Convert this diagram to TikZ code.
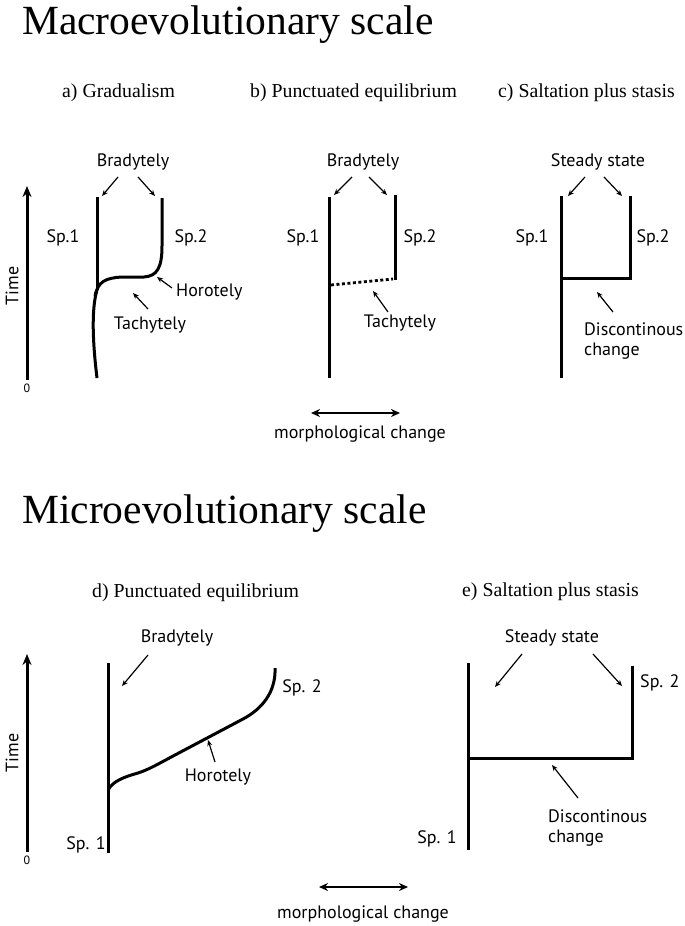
\documentclass[tikz,border=0pt]{standalone}
\usepackage{fontspec}
\setmainfont{Liberation Serif}
\setsansfont{PT Sans}
\usetikzlibrary{arrows.meta}
\begin{document}
\begin{tikzpicture}[x=1pt,y=-1pt,
  lbl/.style={font=\sffamily\fontsize{18}{20}\selectfont, inner sep=0pt},
  lblleft/.style={lbl, align=left, anchor=north west},
  ttl/.style={font=\fontsize{41.5}{46}\selectfont, inner sep=0pt, anchor=base west},
  sub/.style={font=\fontsize{19.8}{22}\selectfont, inner sep=0pt, anchor=base west},
  branch/.style={line width=3pt},
  ptr/.style={line width=1.2pt, -{Stealth[length=6pt,width=5pt]}},
  axis/.style={line width=3pt, -{Stealth[length=11pt,width=9pt]}},
  morph/.style={line width=2.6pt, {Stealth[length=9pt,width=8pt]}-{Stealth[length=9pt,width=8pt]}},
]
\useasboundingbox (0,0) rectangle (685,926);
\fill[white] (0,0) rectangle (685,926);

% ---------- titles ----------
\node[ttl] (t1) at (22,34) {Macroevolutionary scale};
\node[sub] (sa) at (62,97) {a) Gradualism};
\node[sub] (sb) at (250,97) {b) Punctuated equilibrium};
\node[sub] (sc) at (498,97) {c) Saltation plus stasis};

% ---------- time axis (top) ----------
\coordinate (ta0) at (27,380);
\coordinate (ta1) at (27,186);
\draw[axis] (ta0) -- (ta1);
\node[lbl, rotate=90] (time1) at (12,286) {Time};
\node[font=\sffamily\fontsize{12}{14}\selectfont, inner sep=0pt] (zero1) at (27,388) {0};

% ---------- panel a ----------
\coordinate (a1t) at (97,197);
\coordinate (a1j) at (97,290);
\coordinate (a1b) at (97,378);
\coordinate (a2t) at (162,198);
\draw[branch] (a1t) -- (a1j);
\draw[branch] (a1b) .. controls (93,345) and (91,310) .. (a1j);
\draw[branch] (95,296) .. controls (98,281) and (106,278) .. (122,277) -- (144,277)
  .. controls (157,276) and (162,268) .. (162,246) -- (a2t);
\node[lbl] (brA) at (133,162) {Bradytely};
\coordinate (brAl0) at (118,177); \coordinate (brAl1) at (102,196);
\coordinate (brAr0) at (138,177); \coordinate (brAr1) at (155,196);
\draw[ptr] (brAl0) -- (brAl1);
\draw[ptr] (brAr0) -- (brAr1);
\node[lbl] (sp1A) at (63,238) {Sp.1};
\node[lbl] (sp2A) at (191,238) {Sp.2};
\node[lbl, anchor=west] (horA) at (176,292) {Horotely};
\coordinate (horA0) at (172,288); \coordinate (horA1) at (157,277);
\draw[ptr] (horA0) -- (horA1);
\node[lbl] (tacA) at (150,325) {Tachytely};
\coordinate (tacA0) at (148,309); \coordinate (tacA1) at (133,293);
\draw[ptr] (tacA0) -- (tacA1);

% ---------- panel b ----------
\coordinate (b1t) at (329,197);
\coordinate (b1b) at (329,378);
\coordinate (b1j) at (331,285);
\coordinate (b2t) at (395,195);
\coordinate (b2b) at (395,280);
\draw[branch] (b1t) -- (b1b);
\draw[branch] (b2t) -- (b2b);
\draw[line width=2.8pt, dash pattern=on 3pt off 2.5pt] (b1j) -- (393,279);
\node[lbl] (brB) at (363,162) {Bradytely};
\coordinate (brBl0) at (352,177); \coordinate (brBl1) at (334,195);
\coordinate (brBr0) at (369,177); \coordinate (brBr1) at (387,195);
\draw[ptr] (brBl0) -- (brBl1);
\draw[ptr] (brBr0) -- (brBr1);
\node[lbl] (sp1B) at (303,238) {Sp.1};
\node[lbl] (sp2B) at (420,238) {Sp.2};
\node[lbl] (tacB) at (400,323) {Tachytely};
\coordinate (tacB0) at (388,312); \coordinate (tacB1) at (373,291);
\draw[ptr] (tacB0) -- (tacB1);

% ---------- panel c ----------
\coordinate (c1t) at (561,196);
\coordinate (c1b) at (561,378);
\coordinate (c1j) at (561,278);
\coordinate (c2t) at (630,196);
\coordinate (c2b) at (630,278);
\draw[branch] (c1t) -- (c1b);
\draw[branch, line join=miter] (c2t) -- (c2b) -- (c1j);
\node[lbl] (ssC) at (598,162) {Steady state};
\coordinate (ssCl0) at (585,177); \coordinate (ssCl1) at (568,196);
\coordinate (ssCr0) at (604,177); \coordinate (ssCr1) at (622,196);
\draw[ptr] (ssCl0) -- (ssCl1);
\draw[ptr] (ssCr0) -- (ssCr1);
\node[lbl] (sp1C) at (532,238) {Sp.1};
\node[lbl] (sp2C) at (653,238) {Sp.2};
\node[lblleft] (dcC) at (584,323) {Discontinous\\[0pt]change};
\coordinate (dcC0) at (613,312); \coordinate (dcC1) at (597,292);
\draw[ptr] (dcC0) -- (dcC1);

% ---------- morphological change (top) ----------
\coordinate (m1a) at (311,413);
\coordinate (m1b) at (400,413);
\draw[morph] (m1a) -- (m1b);
\node[lbl] (mc1) at (360,434) {morphological change};

% ---------- micro title ----------
\node[ttl] (t2) at (22,523) {Microevolutionary scale};
\node[sub] (sd) at (92,597) {d) Punctuated equilibrium};
\node[sub] (se) at (462,596) {e) Saltation plus stasis};

% ---------- time axis (bottom) ----------
\coordinate (tb0) at (27,852);
\coordinate (tb1) at (27,654);
\draw[axis] (tb0) -- (tb1);
\node[lbl, rotate=90] (time2) at (12,753) {Time};
\node[font=\sffamily\fontsize{12}{14}\selectfont, inner sep=0pt] (zero2) at (27,860) {0};

% ---------- panel d ----------
\coordinate (d1t) at (108,663);
\coordinate (d1b) at (108,853);
\coordinate (d1j) at (108,790);
\coordinate (d2t) at (275,668);
\draw[branch] (d1t) -- (d1b);
\draw[branch] (d1j) .. controls (113,781) and (124,777) .. (138,773)
  .. controls (150,769) and (158,764) .. (175,755) -- (243,719)
  .. controls (262,709) and (276,692) .. (d2t);
\node[lbl] (brD) at (177,638) {Bradytely};
\coordinate (brD0) at (148,655); \coordinate (brD1) at (122,686);
\draw[ptr] (brD0) -- (brD1);
\node[lbl] (sp2D) at (302,688) {Sp. 2};
\node[lbl] (horD) at (218,777) {Horotely};
\coordinate (horD0) at (215,762); \coordinate (horD1) at (208,740);
\draw[ptr] (horD0) -- (horD1);
\node[lbl] (sp1D) at (86,845) {Sp. 1};

% ---------- panel e ----------
\coordinate (e1t) at (468,663);
\coordinate (e1b) at (468,850);
\coordinate (e1j) at (468,758);
\coordinate (e2t) at (632,666);
\coordinate (e2b) at (632,758);
\draw[branch] (e1t) -- (e1b);
\draw[branch, line join=miter] (e2t) -- (e2b) -- (e1j);
\node[lbl] (ssE) at (552,638) {Steady state};
\coordinate (ssEl0) at (522,654); \coordinate (ssEl1) at (495,687);
\coordinate (ssEr0) at (593,654); \coordinate (ssEr1) at (622,686);
\draw[ptr] (ssEl0) -- (ssEl1);
\draw[ptr] (ssEr0) -- (ssEr1);
\node[lbl, anchor=west] (sp2E) at (640,683) {Sp. 2};
\node[lbl] (sp1E) at (437,839) {Sp. 1};
\node[lblleft] (dcE) at (548,810) {Discontinous\\[0pt]change};
\coordinate (dcE0) at (578,798); \coordinate (dcE1) at (552,765);
\draw[ptr] (dcE0) -- (dcE1);

% ---------- morphological change (bottom) ----------
\coordinate (m2a) at (319,887);
\coordinate (m2b) at (408,887);
\draw[morph] (m2a) -- (m2b);
\node[lbl] (mc2) at (363,914) {morphological change};
\end{tikzpicture}
\end{document}
